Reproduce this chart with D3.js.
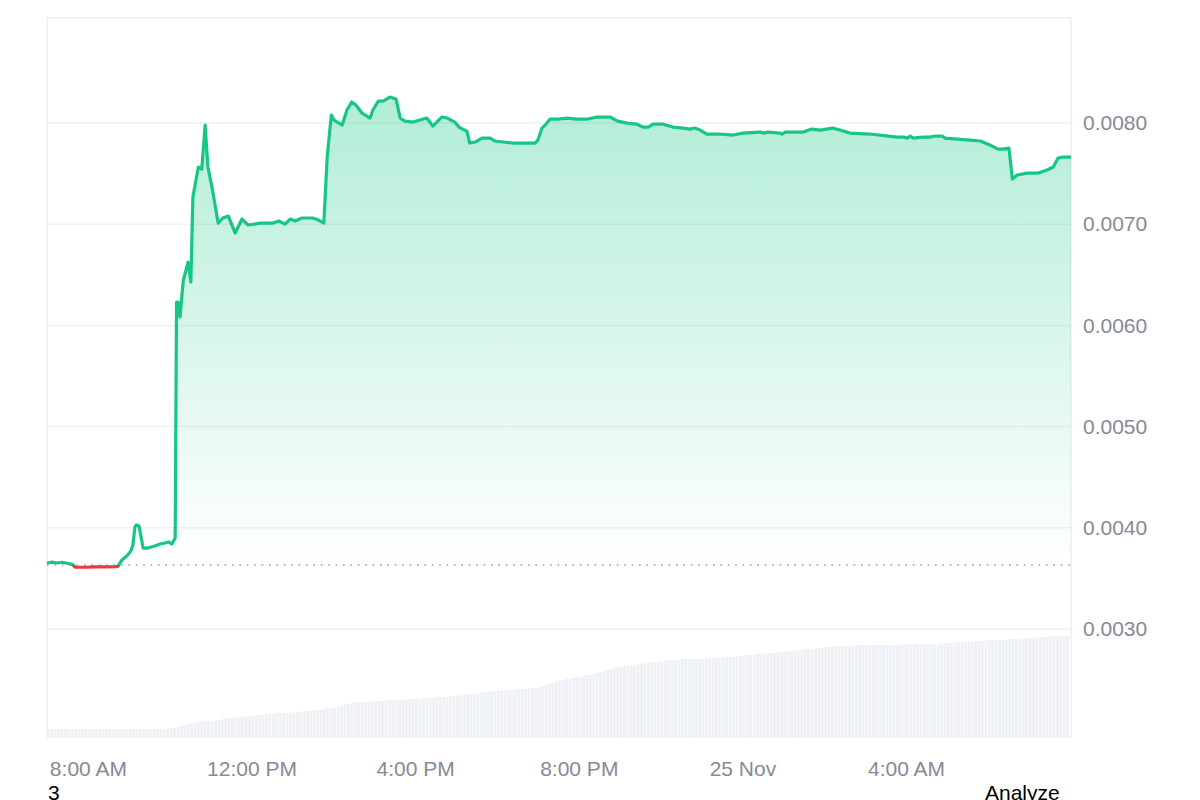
<!DOCTYPE html>
<html>
<head>
<meta charset="utf-8">
<script src="https://cdn.jsdelivr.net/npm/d3@7"></script>
<style>
  body { margin: 0; background: #fff; }
  svg { display: block; font-family: "Liberation Sans", Arial, sans-serif; }
</style>
</head>
<body>
<svg id="chart" width="1200" height="800"></svg>
<script>
// price points (UTC, Nov 24 -> Nov 25)
var times = [
  "11-24 07:00","11-24 07:07","11-24 07:15","11-24 07:22","11-24 07:29","11-24 07:37","11-24 07:41","11-24 07:56",
  "11-24 08:10","11-24 08:25","11-24 08:40","11-24 08:44","11-24 08:50","11-24 08:57","11-24 09:03","11-24 09:06",
  "11-24 09:09","11-24 09:11","11-24 09:15","11-24 09:21","11-24 09:28","11-24 09:38","11-24 09:46","11-24 09:53",
  "11-24 09:58","11-24 10:03","11-24 10:08","11-24 10:10","11-24 10:12","11-24 10:15","11-24 10:20","11-24 10:27",
  "11-24 10:31","11-24 10:34","11-24 10:42","11-24 10:47","11-24 10:52","11-24 10:56","11-24 11:02","11-24 11:11",
  "11-24 11:18","11-24 11:26","11-24 11:36","11-24 11:46","11-24 11:55","11-24 12:13","11-24 12:32","11-24 12:40",
  "11-24 12:49","11-24 12:57","11-24 13:04","11-24 13:14","11-24 13:30","11-24 13:38","11-24 13:46","11-24 13:51",
  "11-24 13:57","11-24 14:01","11-24 14:13","11-24 14:20","11-24 14:27","11-24 14:33","11-24 14:42","11-24 14:54",
  "11-24 14:58","11-24 15:06","11-24 15:13","11-24 15:23","11-24 15:32","11-24 15:38","11-24 15:45","11-24 15:57",
  "11-24 16:17","11-24 16:26","11-24 16:39","11-24 16:47","11-24 16:58","11-24 17:06","11-24 17:16","11-24 17:20",
  "11-24 17:28","11-24 17:38","11-24 17:50","11-24 17:57","11-24 18:09","11-24 18:23","11-24 18:44","11-24 18:56",
  "11-24 19:00","11-24 19:06","11-24 19:12","11-24 19:18","11-24 19:29","11-24 19:43","11-24 19:57","11-24 20:13",
  "11-24 20:27","11-24 20:46","11-24 20:57","11-24 21:11","11-24 21:25","11-24 21:34","11-24 21:42","11-24 21:49",
  "11-24 22:03","11-24 22:18","11-24 22:33","11-24 22:43","11-24 22:50","11-24 22:58","11-24 23:08","11-24 23:27",
  "11-24 23:46","11-25 00:01","11-25 00:26","11-25 00:30","11-25 00:38","11-25 00:55","11-25 00:58","11-25 01:03",
  "11-25 01:29","11-25 01:42","11-25 01:54","11-25 02:12","11-25 02:23","11-25 02:38","11-25 03:07","11-25 03:47",
  "11-25 03:56","11-25 04:02","11-25 04:06","11-25 04:10","11-25 04:25","11-25 04:35","11-25 04:43","11-25 04:53",
  "11-25 04:57","11-25 05:15","11-25 05:34","11-25 05:49","11-25 06:03","11-25 06:15","11-25 06:22","11-25 06:31",
  "11-25 06:36","11-25 06:43","11-25 06:58","11-25 07:14","11-25 07:27","11-25 07:36","11-25 07:43","11-25 07:50",
  "11-25 08:02"
];
// prices in units of 1e-4
var prices = [
  36.52,36.60,36.52,36.60,36.50,36.40,36.12,36.10,
  36.14,36.14,36.16,36.20,36.82,37.21,37.71,38.30,
  40.08,40.28,40.18,38.00,38.00,38.20,38.40,38.50,
  38.60,38.40,38.99,62.31,62.31,60.83,64.48,66.26,
  64.28,72.68,75.65,75.45,79.80,75.65,73.67,70.11,
  70.61,70.80,69.12,70.51,69.92,70.11,70.11,70.31,
  70.01,70.51,70.31,70.61,70.61,70.41,70.11,76.63,
  80.78,80.29,79.80,81.28,82.07,81.77,80.98,80.49,
  81.28,82.17,82.17,82.56,82.36,80.49,80.19,80.09,
  80.49,79.70,80.59,80.49,80.09,79.50,79.20,78.02,
  78.12,78.51,78.51,78.22,78.12,78.02,78.02,78.02,
  78.31,79.50,79.89,80.39,80.39,80.49,80.39,80.39,
  80.59,80.59,80.19,79.99,79.89,79.60,79.60,79.89,
  79.89,79.60,79.50,79.40,79.50,79.30,78.91,78.91,
  78.81,79.00,79.10,79.00,79.10,79.00,78.91,79.10,
  79.10,79.40,79.30,79.50,79.30,79.00,78.91,78.61,
  78.61,78.51,78.71,78.51,78.61,78.61,78.71,78.71,
  78.51,78.41,78.31,78.22,77.82,77.42,77.42,77.52,
  74.46,74.86,75.05,75.05,75.35,75.65,76.53,76.63,
  76.63
];
// reference (opening) price for the dotted line, 1e-4 units
var openPrice = 36.32;
// 5-minute volume bars from 07:00, relative units
var volumes = [
  8,8,8,8,8,8,8,8,8,8,8,8,
  8,8,8,8,8,8,8,8,8,8,8,8,
  8,8,8,8,8,8,8,8,8,8,8,9,
  9,9,10,11,12,13,14,14,15,15,16,16,
  16,17,17,18,18,19,19,20,20,20,21,21,
  21,22,22,22,23,23,23,24,24,24,24,24,
  25,25,25,26,26,26,26,27,27,28,29,29,
  30,30,31,32,33,34,34,35,35,35,35,36,
  36,36,36,36,37,37,37,37,37,38,38,38,
  38,38,39,39,39,39,40,40,40,40,41,41,
  41,42,42,43,43,44,44,45,45,45,46,46,
  46,46,47,47,47,48,48,48,48,49,49,49,
  50,51,52,53,54,55,56,57,58,58,59,60,
  60,61,62,62,63,64,65,66,67,68,69,70,
  70,71,71,72,72,73,73,74,74,75,75,76,
  76,76,77,77,77,77,78,78,78,78,78,78,
  78,79,79,79,79,79,80,80,80,80,81,81,
  81,82,82,82,83,83,83,84,84,84,85,85,
  85,86,86,86,87,87,88,88,88,89,89,89,
  90,90,90,91,91,91,91,91,92,92,92,92,
  92,92,92,92,92,92,92,92,92,92,92,93,
  93,93,93,93,93,93,93,93,93,93,94,94,
  94,94,95,95,95,95,95,95,96,96,96,96,
  97,97,97,97,97,97,98,98,98,98,99,99,
  99,99,100,100,100,100,101,101,101,101,101,101
];
var yTicks = [0.003, 0.004, 0.005, 0.006, 0.007, 0.008];
var xTicks = ["11-24 08:00","11-24 12:00","11-24 16:00","11-24 20:00","11-25 00:00","11-25 04:00"];

var parseTime = d3.utcParse("%m-%d %H:%M");
var data = times.map(function(t, i) { return { date: parseTime(t), price: prices[i] / 10000 }; });

var plotLeft = 47, plotRight = 1071, plotTop = 18, plotBottom = 737;
var green = "#16c784", red = "#ea3943";

var x = d3.scaleUtc()
  .domain([data[0].date, data[data.length - 1].date])
  .range([plotLeft, plotRight]);

var y = d3.scaleLinear()
  .domain([0.0019328, 0.0090375])
  .range([plotBottom, plotTop]);

var yVol = d3.scaleLinear().domain([0, 100]).range([plotBottom, plotBottom - 100]);

var baseY = y(openPrice / 10000);

var svg = d3.select("#chart");
var defs = svg.append("defs");

var grad = defs.append("linearGradient")
  .attr("id", "fill")
  .attr("gradientUnits", "userSpaceOnUse")
  .attr("x1", 0).attr("x2", 0)
  .attr("y1", y(d3.max(data, d => d.price))).attr("y2", baseY);
grad.append("stop").attr("offset", 0).attr("stop-color", green).attr("stop-opacity", 0.33);
grad.append("stop").attr("offset", 1).attr("stop-color", green).attr("stop-opacity", 0);

defs.append("clipPath").attr("id", "above")
  .append("rect").attr("x", 0).attr("y", 0).attr("width", 1200).attr("height", baseY);
defs.append("clipPath").attr("id", "below")
  .append("rect").attr("x", 0).attr("y", baseY).attr("width", 1200).attr("height", 800 - baseY);

// frame + grid
svg.append("rect")
  .attr("x", plotLeft).attr("y", plotTop)
  .attr("width", plotRight - plotLeft).attr("height", plotBottom - plotTop)
  .attr("fill", "none").attr("stroke", "#eceef1").attr("stroke-width", 1.5);

svg.append("g").selectAll("line")
  .data(yTicks)
  .join("line")
  .attr("x1", plotLeft).attr("x2", plotRight)
  .attr("y1", d => y(d)).attr("y2", d => y(d))
  .attr("stroke", "#eff1f3").attr("stroke-width", 1.5);

// volume
var step = 5 * 60 * 1000;
var t0 = data[0].date.getTime();
svg.append("g").selectAll("rect")
  .data(volumes)
  .join("rect")
  .attr("x", (d, i) => x(new Date(t0 + i * step)))
  .attr("width", (d, i) => x(new Date(t0 + (i + 1) * step)) - x(new Date(t0 + i * step)) - 0.6)
  .attr("y", d => yVol(d))
  .attr("height", d => plotBottom - yVol(d))
  .attr("fill", "#eef1f5");

// area
var area = d3.area()
  .x(d => x(d.date))
  .y0(baseY)
  .y1(d => y(d.price));

svg.append("path")
  .datum(data)
  .attr("d", area)
  .attr("fill", "url(#fill)")
  .attr("clip-path", "url(#above)");

// baseline
svg.append("line")
  .attr("x1", plotLeft).attr("x2", plotRight)
  .attr("y1", baseY).attr("y2", baseY)
  .attr("stroke", "#9a9ea6")
  .attr("stroke-width", 1.6)
  .attr("stroke-dasharray", "1.6,5.8");

// price line
var line = d3.line()
  .x(d => x(d.date))
  .y(d => y(d.price));

svg.append("path")
  .datum(data)
  .attr("d", line)
  .attr("fill", "none")
  .attr("stroke", green)
  .attr("stroke-width", 3.2)
  .attr("stroke-linejoin", "round")
  .attr("clip-path", "url(#above)");

svg.append("path")
  .datum(data)
  .attr("d", line)
  .attr("fill", "none")
  .attr("stroke", red)
  .attr("stroke-width", 3.2)
  .attr("stroke-linejoin", "round")
  .attr("clip-path", "url(#below)");

// axes
var fmtMid = d3.utcFormat("%-d %b");
var fmtHour = d3.utcFormat("%-I:%M %p");

var xAxis = d3.axisBottom(x)
  .tickValues(xTicks.map(parseTime))
  .tickFormat(d => d.getUTCHours() === 0 ? fmtMid(d) : fmtHour(d))
  .tickSize(0)
  .tickPadding(24);

var gx = svg.append("g")
  .attr("transform", "translate(0," + plotBottom + ")")
  .call(xAxis);
gx.select(".domain").remove();
gx.selectAll("text")
  .attr("fill", "#858a97")
  .style("font-size", "21px")
  .style("font-family", "\"Liberation Sans\", Arial, sans-serif");

var yAxis = d3.axisRight(y)
  .tickValues(yTicks)
  .tickFormat(d3.format(".4f"))
  .tickSize(0)
  .tickPadding(12);

var gy = svg.append("g")
  .attr("transform", "translate(" + plotRight + ",0)")
  .call(yAxis);
gy.select(".domain").remove();
gy.selectAll("text")
  .attr("fill", "#858a97")
  .style("font-size", "21px")
  .style("font-family", "\"Liberation Sans\", Arial, sans-serif");

// stray labels at the bottom edge
svg.append("text")
  .attr("x", 48).attr("y", 800)
  .style("font-size", "21px")
  .attr("fill", "#000")
  .text("3");

svg.append("text")
  .attr("x", 985).attr("y", 800)
  .style("font-size", "21px")
  .attr("fill", "#000")
  .text("Analyze");
</script>
</body>
</html>
